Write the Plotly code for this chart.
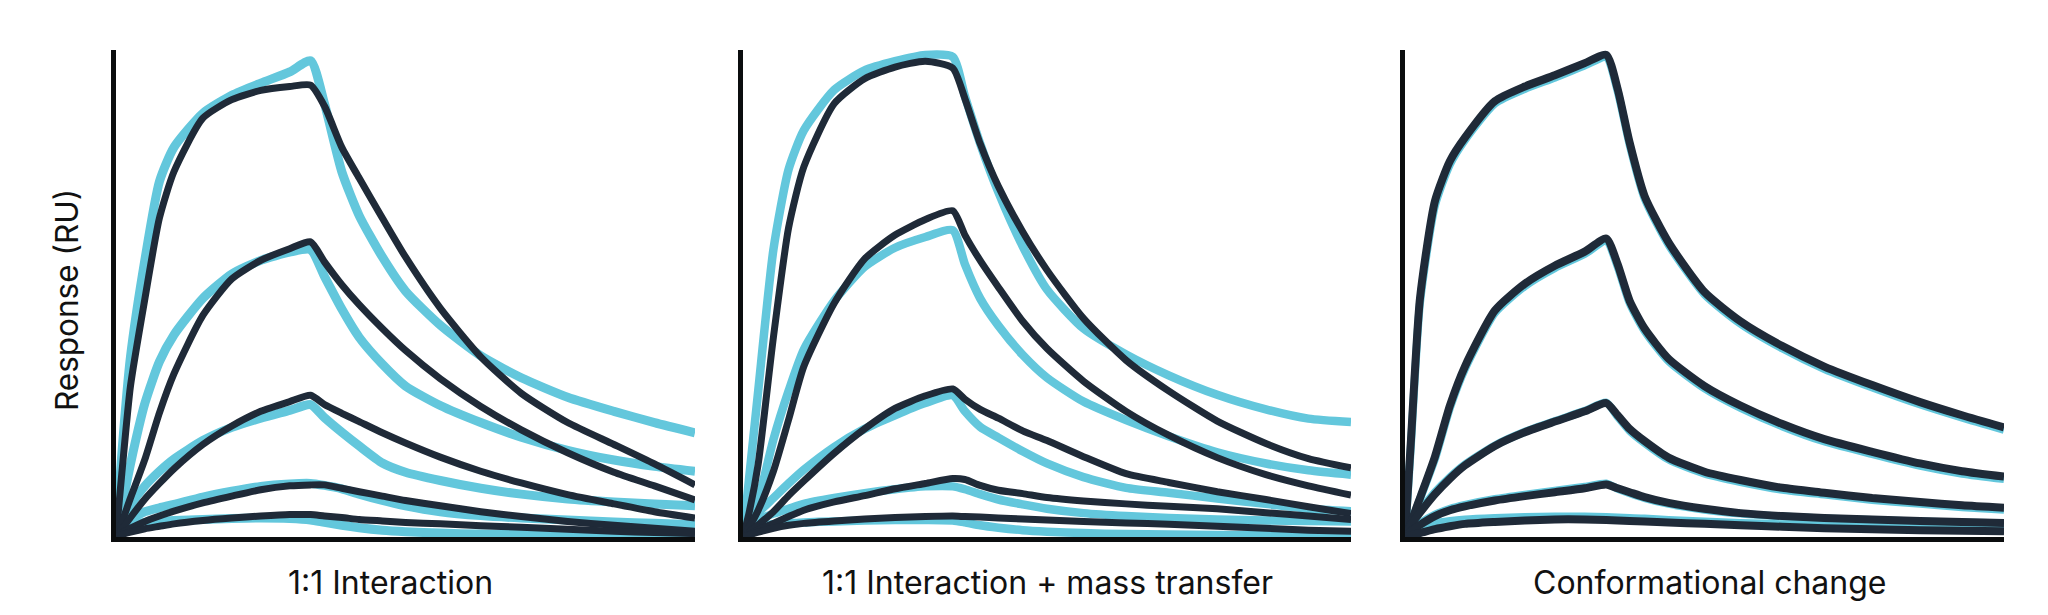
import plotly.graph_objects as go

# sensorgram curves, time and response normalised to 0..1 per panel
# cyan = measured data, navy = model fit

cyan = "#63c7dc"
navy = "#1f2a38"

panel_titles = ["1:1 Interaction", "1:1 Interaction + mass transfer", "Conformational change"]
y_title = "Response (RU)"

# --- panel 1 : 1:1 interaction ---
t1 = [0, 0.01, 0.025, 0.05, 0.075, 0.1, 0.15, 0.2, 0.25, 0.3, 0.336, 0.36, 0.39, 0.42, 0.46, 0.5, 0.56, 0.63, 0.7, 0.78, 0.86, 0.93, 1.0]
p1_data1 = [0, 0.17, 0.37, 0.57, 0.73, 0.80, 0.87, 0.907, 0.932, 0.955, 0.978, 0.89, 0.75, 0.66, 0.575, 0.505, 0.435, 0.372, 0.327, 0.287, 0.258, 0.235, 0.214]
p1_data2 = [0, 0.06, 0.15, 0.275, 0.36, 0.415, 0.49, 0.54, 0.568, 0.585, 0.59, 0.535, 0.468, 0.41, 0.355, 0.31, 0.27, 0.235, 0.205, 0.178, 0.158, 0.145, 0.135]
p1_data3 = [0, 0.03, 0.065, 0.105, 0.135, 0.16, 0.198, 0.225, 0.244, 0.26, 0.272, 0.245, 0.215, 0.187, 0.152, 0.133, 0.116, 0.1, 0.088, 0.078, 0.072, 0.068, 0.064]
p1_data4 = [0, 0.02, 0.035, 0.052, 0.06, 0.067, 0.082, 0.094, 0.104, 0.109, 0.11, 0.106, 0.099, 0.088, 0.075, 0.064, 0.052, 0.044, 0.039, 0.035, 0.031, 0.028, 0.025]
p1_data5 = [0, 0.015, 0.025, 0.03, 0.032, 0.034, 0.036, 0.038, 0.039, 0.038, 0.035, 0.03, 0.024, 0.019, 0.014, 0.011, 0.008, 0.006, 0.005, 0.004, 0.003, 0.003, 0.003]
p1_fit1 = [0, 0.13, 0.31, 0.49, 0.655, 0.75, 0.86, 0.898, 0.917, 0.925, 0.928, 0.885, 0.80, 0.737, 0.655, 0.575, 0.47, 0.37, 0.295, 0.235, 0.19, 0.15, 0.107]
p1_fit2 = [0, 0.03, 0.08, 0.16, 0.255, 0.335, 0.455, 0.53, 0.568, 0.592, 0.606, 0.565, 0.518, 0.477, 0.428, 0.383, 0.325, 0.268, 0.22, 0.173, 0.133, 0.105, 0.076]
p1_fit3 = [0, 0.015, 0.04, 0.078, 0.11, 0.14, 0.19, 0.228, 0.258, 0.278, 0.291, 0.272, 0.254, 0.237, 0.214, 0.193, 0.164, 0.135, 0.111, 0.087, 0.068, 0.052, 0.039]
p1_fit4 = [0, 0.008, 0.018, 0.032, 0.043, 0.053, 0.07, 0.084, 0.097, 0.105, 0.107, 0.107, 0.1, 0.093, 0.084, 0.075, 0.064, 0.052, 0.042, 0.032, 0.024, 0.018, 0.012]
p1_fit5 = [0, 0.005, 0.01, 0.017, 0.022, 0.027, 0.034, 0.039, 0.043, 0.046, 0.046, 0.043, 0.04, 0.036, 0.033, 0.03, 0.027, 0.023, 0.02, 0.016, 0.012, 0.009, 0.007]

# --- panel 2 : 1:1 interaction + mass transfer ---
t2 = [0, 0.01, 0.025, 0.05, 0.075, 0.1, 0.15, 0.2, 0.25, 0.3, 0.345, 0.365, 0.39, 0.42, 0.46, 0.5, 0.56, 0.63, 0.7, 0.78, 0.86, 0.93, 1.0]
p2_data1 = [0, 0.12, 0.3, 0.59, 0.755, 0.835, 0.918, 0.958, 0.977, 0.99, 0.986, 0.905, 0.808, 0.708, 0.597, 0.508, 0.428, 0.375, 0.332, 0.292, 0.262, 0.243, 0.236]
p2_data2 = [0, 0.03, 0.075, 0.2, 0.3, 0.385, 0.485, 0.555, 0.594, 0.616, 0.63, 0.56, 0.49, 0.434, 0.374, 0.327, 0.278, 0.24, 0.207, 0.174, 0.151, 0.137, 0.128]
p2_data3 = [0, 0.025, 0.05, 0.08, 0.11, 0.138, 0.185, 0.222, 0.25, 0.275, 0.291, 0.258, 0.226, 0.204, 0.176, 0.151, 0.123, 0.101, 0.091, 0.079, 0.068, 0.058, 0.053]
p2_data4 = [0, 0.02, 0.035, 0.048, 0.058, 0.068, 0.08, 0.09, 0.098, 0.104, 0.104, 0.098, 0.088, 0.077, 0.067, 0.058, 0.049, 0.043, 0.039, 0.036, 0.034, 0.033, 0.032]
p2_data5 = [0, 0.012, 0.02, 0.026, 0.028, 0.03, 0.032, 0.034, 0.035, 0.035, 0.034, 0.03, 0.024, 0.019, 0.014, 0.011, 0.008, 0.006, 0.005, 0.004, 0.004, 0.004, 0.004]
p2_fit1 = [0, 0.05, 0.15, 0.41, 0.635, 0.76, 0.89, 0.941, 0.965, 0.977, 0.963, 0.9, 0.808, 0.72, 0.627, 0.548, 0.449, 0.363, 0.3, 0.238, 0.192, 0.161, 0.142]
p2_fit2 = [0, 0.02, 0.055, 0.135, 0.241, 0.35, 0.48, 0.571, 0.62, 0.652, 0.67, 0.62, 0.568, 0.513, 0.443, 0.387, 0.32, 0.258, 0.209, 0.163, 0.128, 0.105, 0.086]
p2_fit3 = [0, 0.01, 0.025, 0.052, 0.085, 0.115, 0.172, 0.222, 0.264, 0.29, 0.304, 0.283, 0.262, 0.244, 0.218, 0.198, 0.165, 0.13, 0.112, 0.093, 0.077, 0.062, 0.048]
p2_fit4 = [0, 0.005, 0.015, 0.028, 0.042, 0.055, 0.072, 0.085, 0.099, 0.11, 0.12, 0.118, 0.106, 0.096, 0.089, 0.081, 0.074, 0.068, 0.063, 0.058, 0.05, 0.043, 0.036]
p2_fit5 = [0, 0.004, 0.01, 0.018, 0.024, 0.028, 0.033, 0.037, 0.04, 0.042, 0.043, 0.042, 0.041, 0.039, 0.037, 0.035, 0.032, 0.029, 0.026, 0.022, 0.018, 0.014, 0.012]

# --- panel 3 : conformational change ---
t3 = [0, 0.01, 0.025, 0.05, 0.075, 0.1, 0.15, 0.2, 0.25, 0.3, 0.336, 0.355, 0.375, 0.4, 0.44, 0.5, 0.56, 0.63, 0.7, 0.78, 0.86, 0.93, 1.0]
p3_data1 = [0, 0.19, 0.48, 0.68, 0.765, 0.815, 0.89, 0.92, 0.943, 0.968, 0.985, 0.915, 0.805, 0.695, 0.6, 0.498, 0.438, 0.387, 0.345, 0.307, 0.272, 0.245, 0.22]
p3_data2 = [0, 0.03, 0.078, 0.16, 0.265, 0.345, 0.46, 0.515, 0.552, 0.581, 0.608, 0.555, 0.48, 0.423, 0.361, 0.305, 0.265, 0.227, 0.196, 0.17, 0.146, 0.13, 0.119]
p3_data3 = [0, 0.027, 0.053, 0.092, 0.123, 0.149, 0.188, 0.216, 0.238, 0.259, 0.276, 0.247, 0.218, 0.193, 0.159, 0.13, 0.113, 0.097, 0.087, 0.076, 0.068, 0.061, 0.056]
p3_data4 = [0, 0.014, 0.028, 0.046, 0.058, 0.066, 0.078, 0.087, 0.095, 0.103, 0.11, 0.099, 0.09, 0.08, 0.068, 0.056, 0.048, 0.042, 0.038, 0.035, 0.032, 0.03, 0.028]
p3_data5 = [0, 0.008, 0.018, 0.028, 0.033, 0.036, 0.039, 0.041, 0.042, 0.042, 0.041, 0.04, 0.039, 0.038, 0.035, 0.032, 0.029, 0.026, 0.023, 0.02, 0.018, 0.016, 0.015]
p3_fit1 = [0, 0.2, 0.49, 0.69, 0.772, 0.82, 0.895, 0.925, 0.948, 0.973, 0.99, 0.92, 0.81, 0.7, 0.605, 0.503, 0.443, 0.392, 0.35, 0.312, 0.277, 0.25, 0.225]
p3_fit2 = [0, 0.03, 0.08, 0.165, 0.27, 0.35, 0.465, 0.52, 0.557, 0.586, 0.613, 0.56, 0.485, 0.428, 0.366, 0.31, 0.27, 0.232, 0.201, 0.175, 0.151, 0.135, 0.124]
p3_fit3 = [0, 0.025, 0.05, 0.088, 0.12, 0.147, 0.187, 0.215, 0.237, 0.258, 0.275, 0.25, 0.222, 0.197, 0.163, 0.134, 0.117, 0.101, 0.091, 0.08, 0.072, 0.065, 0.06]
p3_fit4 = [0, 0.012, 0.025, 0.043, 0.055, 0.063, 0.075, 0.084, 0.092, 0.1, 0.108, 0.1, 0.092, 0.082, 0.07, 0.058, 0.049, 0.043, 0.039, 0.036, 0.033, 0.031, 0.029]
p3_fit5 = [0, 0.004, 0.008, 0.016, 0.022, 0.027, 0.031, 0.034, 0.036, 0.036, 0.035, 0.034, 0.033, 0.032, 0.03, 0.027, 0.024, 0.021, 0.018, 0.016, 0.014, 0.013, 0.012]

panels = [
    (t1, [p1_data1, p1_data2, p1_data3, p1_data4, p1_data5], [p1_fit1, p1_fit2, p1_fit3, p1_fit4, p1_fit5]),
    (t2, [p2_data1, p2_data2, p2_data3, p2_data4, p2_data5], [p2_fit1, p2_fit2, p2_fit3, p2_fit4, p2_fit5]),
    (t3, [p3_data1, p3_data2, p3_data3, p3_data4, p3_data5], [p3_fit1, p3_fit2, p3_fit3, p3_fit4, p3_fit5]),
]

W, H = 2048, 615
# plot area edges in pixels (left, right) for each panel
x_edges = [(108, 687), (735, 1343), (1397, 1996)]
title_x = [382, 1039, 1702]
y_top, y_bottom = 42, 529
data_width = [9, 8.5, 8]
fit_width = [7, 7, 8]
label_font = "Inter"

fig = go.Figure()

for i, (t, data, fits) in enumerate(panels):
    ax = "" if i == 0 else str(i + 1)
    for y in data:
        fig.add_trace(go.Scatter(
            x=t, y=y, mode="lines", xaxis="x" + ax, yaxis="y" + ax,
            line=dict(color=cyan, width=data_width[i], shape="spline", smoothing=0.6),
            hoverinfo="skip", showlegend=False))
    for y in fits:
        fig.add_trace(go.Scatter(
            x=t, y=y, mode="lines", xaxis="x" + ax, yaxis="y" + ax,
            line=dict(color=navy, width=fit_width[i], shape="spline", smoothing=0.6),
            hoverinfo="skip", showlegend=False))

axis_style = dict(showline=True, linewidth=5, linecolor="#0b0d0e", showgrid=False,
                  zeroline=False, showticklabels=False, ticks="", fixedrange=True)

layout = dict(width=W, height=H, margin=dict(l=0, r=0, t=0, b=0),
              paper_bgcolor="white", plot_bgcolor="white", showlegend=False,
              font=dict(family=label_font, color="#111111"))

for i, (x0, x1) in enumerate(x_edges):
    ax = "" if i == 0 else str(i + 1)
    layout["xaxis" + ax] = dict(axis_style, domain=[x0 / W, x1 / W], range=[0, 1],
                                anchor="y" + ax)
    layout["yaxis" + ax] = dict(axis_style, domain=[1 - y_bottom / H, 1 - y_top / H],
                                range=[0, 1], anchor="x" + ax)

fig.update_layout(**layout)

annotations = []
for i in range(3):
    annotations.append(dict(text=panel_titles[i], xref="paper", yref="paper",
                            x=title_x[i] / W, y=1 - 574 / H, showarrow=False,
                            xanchor="center", yanchor="middle",
                            font=dict(size=32, family=label_font, color="#111111")))
annotations.append(dict(text=y_title, xref="paper", yref="paper", x=58 / W, y=1 - 292 / H,
                        showarrow=False, textangle=-90, xanchor="center", yanchor="middle",
                        font=dict(size=31.5, family=label_font, color="#111111")))
fig.update_layout(annotations=annotations)

fig.write_html("out.html")
